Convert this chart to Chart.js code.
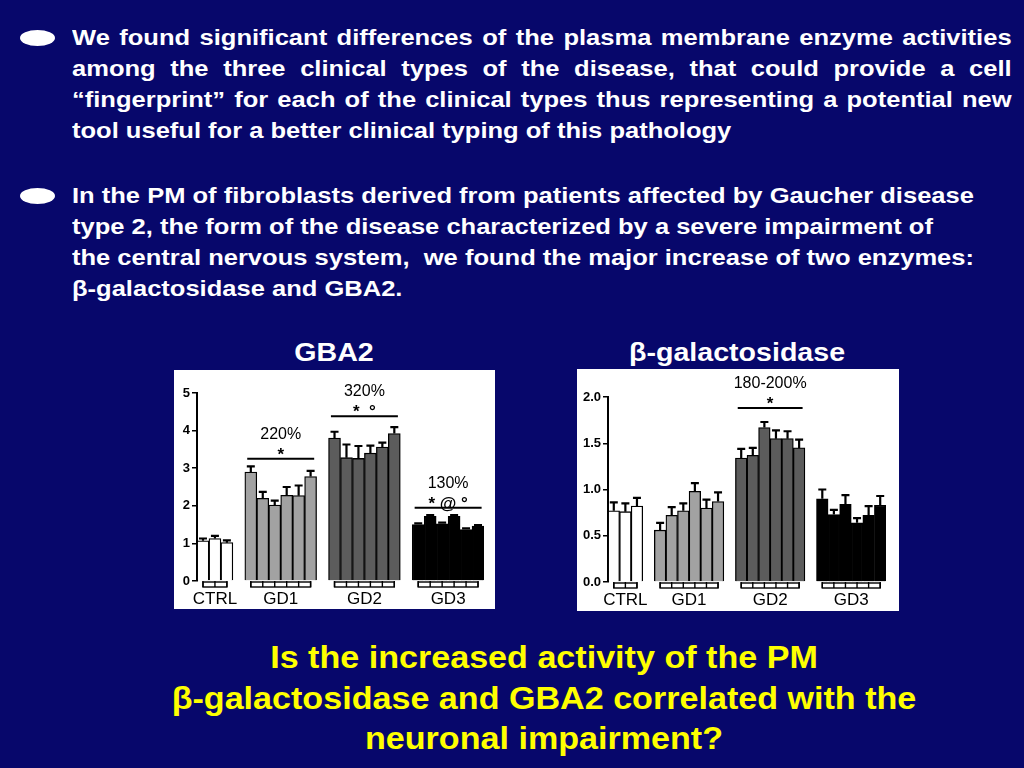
<!DOCTYPE html>
<html>
<head>
<meta charset="utf-8">
<script src="https://cdn.jsdelivr.net/npm/chart.js@4.4.1/dist/chart.umd.min.js"></script>
<style>
  html, body { margin: 0; padding: 0; }
  body { width: 1024px; height: 768px; background: #07076b; position: relative; overflow: hidden;
         font-family: "Liberation Sans", Arial, sans-serif; }
  .bullet { position: absolute; left: 20px; width: 35px; height: 16px; border-radius: 50%; background: #fff; }
  .para { position: absolute; left: 72px; width: 810px; color: #fff; font-weight: bold; font-size: 22px; line-height: 31px;
          transform: scaleX(1.16); transform-origin: 0 0; white-space: nowrap; }
  .para .j { text-align: justify; text-align-last: justify; white-space: normal; }
  .head { position: absolute; color: #fff; font-weight: bold; font-size: 26px; text-align: center; transform: scaleX(1.1); }
  .panel { position: absolute; background: #fff; }
  .question { position: absolute; left: 144px; width: 800px; top: 638px; text-align: center; color: #ffff00;
              font-weight: bold; font-size: 31px; line-height: 40.5px; transform: scaleX(1.1); white-space: nowrap; }
</style>
</head>
<body>
<div class="bullet" style="top:30px"></div>
<div class="para" style="top:22px">
  <div class="j">We found significant differences of the plasma membrane enzyme activities</div>
  <div class="j">among the three clinical types of the disease, that could provide a cell</div>
  <div class="j">“fingerprint” for each of the clinical types thus representing a potential new</div>
  <div>tool useful for a better clinical typing of this pathology</div>
</div>
<div class="bullet" style="top:188px"></div>
<div class="para" style="top:180px">In the PM of fibroblasts derived from patients affected by Gaucher disease<br>type 2, the form of the disease characterized by a severe impairment of<br>the central nervous system,&nbsp; we found the major increase of two enzymes:<br>β-galactosidase and GBA2.</div>

<div class="head" style="left:254px; width:160px; top:337px">GBA2</div>
<div class="head" style="left:617px; width:240px; top:337px">β-galactosidase</div>

<div class="panel" style="left:174px; top:370px; width:321px; height:239px"><canvas id="gba2"></canvas></div>
<div class="panel" style="left:577px; top:369px; width:322px; height:242px"><canvas id="bgal"></canvas></div>

<div class="question">Is the increased activity of the PM<br>β-galactosidase and GBA2 correlated with the<br>neuronal impairment?</div>

<script>
const groups = ['CTRL', 'GD1', 'GD2', 'GD3'];
const groupColors = ['#ffffff', '#a2a2a2', '#5c5c5c', '#000000'];

// GBA2 activity, one array per group
const gba2Values = [
  [1.07, 1.13, 1.02],
  [2.90, 2.20, 2.02, 2.28, 2.27, 2.78],
  [3.80, 3.28, 3.26, 3.40, 3.56, 3.92],
  [1.50, 1.72, 1.52, 1.72, 1.37, 1.46]
];
const gba2Errors = [
  [0.06, 0.07, 0.06],
  [0.15, 0.17, 0.12, 0.22, 0.27, 0.15],
  [0.17, 0.35, 0.33, 0.20, 0.12, 0.17],
  [0.03, 0.03, 0.03, 0.03, 0.03, 0.03]
];
const gba2Notes = [
  { group: 1, line: 3.25, pct: '220%', sig: '*' },
  { group: 2, line: 4.38, pct: '320%', sig: '*  °' },
  { group: 3, line: 1.95, pct: '130%', sig: '* @ °' }
];

// beta-galactosidase activity
const bgalValues = [
  [0.77, 0.76, 0.82],
  [0.56, 0.72, 0.77, 0.98, 0.80, 0.87],
  [1.34, 1.37, 1.67, 1.55, 1.55, 1.45],
  [0.90, 0.73, 0.84, 0.64, 0.72, 0.83]
];
const bgalErrors = [
  [0.09, 0.09, 0.09],
  [0.08, 0.09, 0.08, 0.09, 0.09, 0.10],
  [0.10, 0.08, 0.06, 0.09, 0.08, 0.09],
  [0.10, 0.05, 0.10, 0.05, 0.10, 0.10]
];
const bgalNotes = [
  { group: 2, line: 1.88, pct: '180-200%', sig: '*' }
];

// flatten groups into slots, one empty slot between groups
function buildSlots(values, errors) {
  var labels = [], data = [], err = [], colors = [], groupIdx = [];
  values.forEach(function (g, gi) {
    if (gi > 0) { labels.push(''); data.push(null); err.push(null); colors.push('#fff'); groupIdx.push(-1); }
    g.forEach(function (v, i) {
      labels.push(groups[gi] + ' ' + (i + 1));
      data.push(v);
      err.push(errors[gi][i]);
      colors.push(groupColors[gi]);
      groupIdx.push(gi);
    });
  });
  return { labels: labels, data: data, err: err, colors: colors, groupIdx: groupIdx };
}

var extras = {
  id: 'extras',
  afterDatasetsDraw: function (chart) {
    var ctx = chart.ctx, x = chart.scales.x, y = chart.scales.y;
    var s = chart.options.plugins.extras;
    var half = x.getPixelForValue(1) - x.getPixelForValue(0);
    ctx.save();
    // error bars (upper only)
    ctx.strokeStyle = '#000';
    ctx.lineWidth = 2.2;
    s.slots.data.forEach(function (v, i) {
      if (v === null) return;
      var cx = x.getPixelForValue(i);
      var y0 = y.getPixelForValue(v), y1 = y.getPixelForValue(v + s.slots.err[i]);
      ctx.beginPath();
      ctx.moveTo(cx, y0); ctx.lineTo(cx, y1);
      ctx.moveTo(cx - 4, y1); ctx.lineTo(cx + 4, y1);
      ctx.stroke();
    });
    // brackets and group labels under the axis
    var base = y.getPixelForValue(0);
    groups.forEach(function (name, gi) {
      var idx = [];
      s.slots.groupIdx.forEach(function (g, i) { if (g === gi) idx.push(i); });
      var first = x.getPixelForValue(idx[0]), last = x.getPixelForValue(idx[idx.length - 1]);
      ctx.fillStyle = '#fff';
      ctx.lineWidth = 1.4;
      ctx.fillRect(first, base + 1, last - first, 5);
      ctx.strokeRect(first, base + 1, last - first, 5);
      idx.forEach(function (i) {
        var cx = x.getPixelForValue(i);
        ctx.beginPath(); ctx.moveTo(cx, base); ctx.lineTo(cx, base + 6); ctx.stroke();
      });
      ctx.fillStyle = '#000';
      ctx.font = '17px "Liberation Sans", Arial, sans-serif';
      ctx.textAlign = 'center';
      ctx.textBaseline = 'alphabetic';
      ctx.fillText(name, (first + last) / 2, base + 23);
    });
    // significance lines
    s.notes.forEach(function (n) {
      var idx = [];
      s.slots.groupIdx.forEach(function (g, i) { if (g === n.group) idx.push(i); });
      var l = x.getPixelForValue(idx[0]) - half * 0.3, r = x.getPixelForValue(idx[idx.length - 1]) + half * 0.3;
      var ly = y.getPixelForValue(n.line);
      ctx.lineWidth = 2;
      ctx.beginPath(); ctx.moveTo(l, ly); ctx.lineTo(r, ly); ctx.stroke();
      ctx.fillStyle = '#000';
      ctx.textAlign = 'center';
      ctx.font = '16px "Liberation Sans", Arial, sans-serif';
      ctx.fillText(n.pct, (l + r) / 2, ly - 20);
      ctx.font = 'bold 17px "Liberation Sans", Arial, sans-serif';
      ctx.fillText(n.sig, (l + r) / 2, ly + 1);
    });
    ctx.restore();
  }
};

function makeChart(id, values, errors, notes, yMax, yStep, decimals, pad) {
  var slots = buildSlots(values, errors);
  return new Chart(document.getElementById(id), {
    type: 'bar',
    data: {
      labels: slots.labels,
      datasets: [{
        data: slots.data,
        backgroundColor: slots.colors,
        borderColor: '#000',
        borderWidth: 1.3,
        barPercentage: 1,
        categoryPercentage: 1
      }]
    },
    options: {
      responsive: true,
      maintainAspectRatio: false,
      animation: false,
      layout: { padding: pad },
      scales: {
        x: { display: false },
        y: {
          min: 0,
          max: yMax,
          afterFit: function (scale) { scale.width = pad.axis; },
          ticks: {
            stepSize: yStep,
            color: '#000',
            padding: 2,
            font: { family: '"Liberation Sans", Arial, sans-serif', size: 13, weight: 'bold' },
            callback: function (v) { return v.toFixed(decimals); }
          },
          grid: { display: true, drawOnChartArea: false, color: '#000', tickLength: 5, lineWidth: 1.5 },
          border: { color: '#000', width: 2 }
        }
      },
      plugins: {
        legend: { display: false },
        tooltip: { enabled: false },
        extras: { slots: slots, notes: notes }
      }
    },
    plugins: [extras]
  });
}

makeChart('gba2', gba2Values, gba2Errors, gba2Notes, 5, 1, 0, { top: 23, left: 2, right: 11, bottom: 28, axis: 21 });
makeChart('bgal', bgalValues, bgalErrors, bgalNotes, 2, 0.5, 1, { top: 28, left: 1, right: 13, bottom: 29, axis: 30 });
</script>
</body>
</html>
